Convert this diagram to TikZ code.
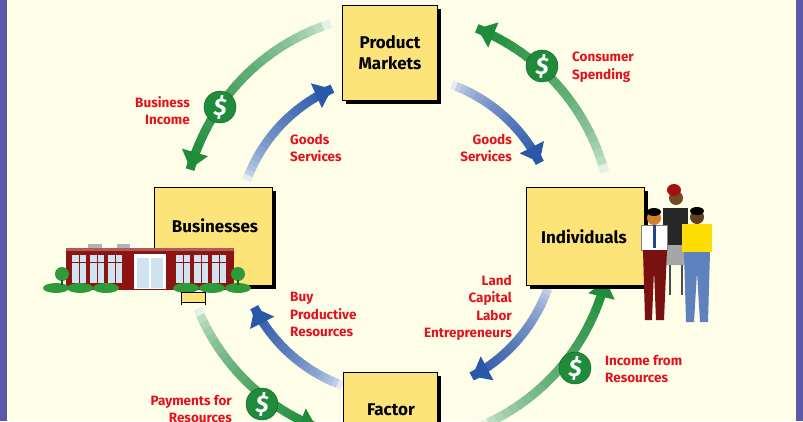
\documentclass[tikz,border=0pt]{standalone}
\usepackage{fontspec}
\setmainfont{Fira Sans}
\usetikzlibrary{calc,arrows.meta}
\definecolor{bg}{HTML}{FEFDE8}
\definecolor{bord}{HTML}{5A5AA8}
\definecolor{boxf}{HTML}{FCE47A}
\definecolor{gr}{HTML}{1E8C3A}
\definecolor{bl}{HTML}{2A58A8}
\definecolor{lab}{HTML}{E0141E}
\definecolor{brick}{HTML}{8E1414}
\definecolor{win}{HTML}{CFE3F0}
\definecolor{shrub}{HTML}{2E9A3A}
\newcommand\gradarc[6]{%
 \foreach \i in {0,...,23}{%
  \pgfmathsetmacro\aa{#3+(#4-#3)*\i/24}%
  \pgfmathsetmacro\bb{#3+(#4-#3)*(\i+1.1)/24}%
  \pgfmathtruncatemacro\pp{12+88*sqrt(\i/23)}%
  \draw[#5!\pp!white, line width=#6] ($(#1)+(\aa:#2)$) arc[start angle=\aa, end angle=\bb, radius=#2];}%
 \pgfmathsetmacro\aa{#4-(#4-#3)/24}%
 \draw[#5, line width=#6, -{Triangle[length=17pt,width=26pt]}] ($(#1)+(\aa:#2)$) arc[start angle=\aa, end angle=#4, radius=#2];}
\tikzset{
 sector/.style={draw=black, line width=0.6pt, fill=boxf, inner sep=0pt},
 boxtxt/.style={font=\bfseries\fontsize{17}{21}\selectfont, align=center, inner sep=0pt},
 shadowbox/.style={fill=black},
 lbl/.style={text=lab, font=\bfseries\fontsize{13.5}{17.5}\selectfont, inner sep=0pt},
 coin/.style={circle, fill=gr, draw=gr!60!black, minimum size=32pt, text=white, font=\bfseries\itshape\fontsize{24}{24}\selectfont, inner sep=0pt}
}
\begin{document}
\begin{tikzpicture}[x=1pt,y=-1pt]
\useasboundingbox (0,0) rectangle (803,421);
\fill[bg] (0,0) rectangle (803,421);
\fill[bord] (0,0) rectangle (7,421);
\fill[bord] (796,0) rectangle (803,421);
\coordinate (CO) at (397,228);
\coordinate (CI) at (397,235);
\gradarc{CO}{215}{252}{196}{gr}{9pt}
\gradarc{CO}{215}{345}{292}{gr}{9pt}
\gradarc{CO}{215}{67}{14}{gr}{9pt}
\gradarc{CO}{215}{158}{112}{gr}{9pt}
\gradarc{CI}{160}{200}{246}{bl}{9pt}
\gradarc{CI}{160}{290}{333}{bl}{9pt}
\gradarc{CI}{160}{18}{62}{bl}{9pt}
\gradarc{CI}{160}{110}{153}{bl}{9pt}
\fill[shadowbox] (346,9) rectangle (441,104);
\node[sector, minimum width=95pt, minimum height=95pt, anchor=north west] (pm) at (342,5) {};
\node[boxtxt] (pmt) at (390,53) {Product\\Markets};
\fill[shadowbox] (158,191) rectangle (276,289);
\node[sector, minimum width=118pt, minimum height=98pt, anchor=north west] (bus) at (154,187) {};
\node[boxtxt] (bust) at (215,226) {Businesses};
\fill[shadowbox] (530,191) rectangle (648,289);
\node[sector, minimum width=118pt, minimum height=98pt, anchor=north west] (ind) at (526,187) {};
\node[boxtxt] (indt) at (584,237) {Individuals};
\fill[shadowbox] (347,376) rectangle (441,430);
\node[sector, minimum width=94pt, minimum height=60pt, anchor=north west] (fac) at (343,372) {};
\node[boxtxt] (fact) at (391,410) {Factor};
\node[coin] (c1) at (220,107) {\$};
\node[coin] (c2) at (542,66) {\$};
\node[coin] (c3) at (575,368) {\$};
\node[coin] (c4) at (262,404) {\$};
\node[lbl, align=right, anchor=north east] (l1) at (190,96) {Business\\Income};
\node[lbl, align=left, anchor=north west] (l2) at (290,134) {Goods\\Services};
\node[lbl, align=right, anchor=north east] (l3) at (512,134) {Goods\\Services};
\node[lbl, align=left, anchor=north west] (l4) at (572,52) {Consumer\\Spending};
\node[lbl, align=right, anchor=north east] (l5) at (512,275) {Land\\Capital\\Labor\\Entrepreneurs};
\node[lbl, align=left, anchor=north west] (l6) at (290,292) {Buy\\Productive\\Resources};
\node[lbl, align=left, anchor=north west] (l7) at (605,355) {Income from\\Resources};
\node[lbl, align=right, anchor=north east] (l8) at (232,395) {Payments for\\Resources};
\fill[gray!60] (88,244) rectangle (102,248); \fill[gray!60] (117,244) rectangle (130,248);
\fill[brick] (66,248) rectangle (234,290);
\fill[brick!70!white] (66,248) rectangle (234,251);
\foreach \x in {72,90,108,176,194,212}{\fill[win] (\x,255) rectangle ++(14,28); \draw[brick, line width=1pt] (\x+7,255) -- (\x+7,283) (\x,262) -- (\x+14,262);}
\fill[white] (134,254) rectangle (166,289);
\fill[win] (137,258) rectangle (149,288); \fill[win] (151,258) rectangle (163,288);
\foreach \x in {56,80,106,186,212,238}{\fill[shrub] (\x,288) ellipse (13pt and 5pt);}
\fill[shrub] (62,274) circle (7pt); \draw[shrub!60!black, line width=1.5pt] (62,280) -- (62,285);
\fill[shrub] (238,274) circle (7pt); \draw[shrub!60!black, line width=1.5pt] (238,280) -- (238,285);
\draw[black, fill=boxf, line width=0.5pt] (181,292) rectangle (205,302);
\draw[black, line width=0.6pt] (181,302) -- (181,305) (205,302) -- (205,305);
\fill[black!85] (663,208) rectangle (688,245);
\fill[gray!70] (664,245) -- (688,245) -- (686,265) -- (666,265) -- cycle;
\draw[black!70, line width=2.5pt] (670,265) -- (670,295) (682,265) -- (682,295);
\fill[brown!60!black] (676,198) circle (7pt);
\fill[brick!80!red] (674,190) ellipse (7pt and 6pt);
\fill[white, draw=gray] (641,225) rectangle (667,250);
\fill[bl!80!black] (653,225) rectangle (656,248);
\fill[brick!85!black] (643,250) -- (667,250) -- (664,320) -- (656,320) -- (654,270) -- (652,320) -- (645,320) -- cycle;
\fill[brown!70!orange] (654,218) circle (7pt);
\fill[black] (654,212) ellipse (7pt and 4pt);
\fill[yellow!80!orange] (682,224) rectangle (712,252);
\fill[bl!75!white] (684,252) -- (710,252) -- (708,322) -- (700,322) -- (697,272) -- (694,322) -- (686,322) -- cycle;
\fill[brown!50!black] (697,217) circle (7pt);
\fill[black] (697,211) ellipse (7pt and 4pt);
\end{tikzpicture}
\end{document}
